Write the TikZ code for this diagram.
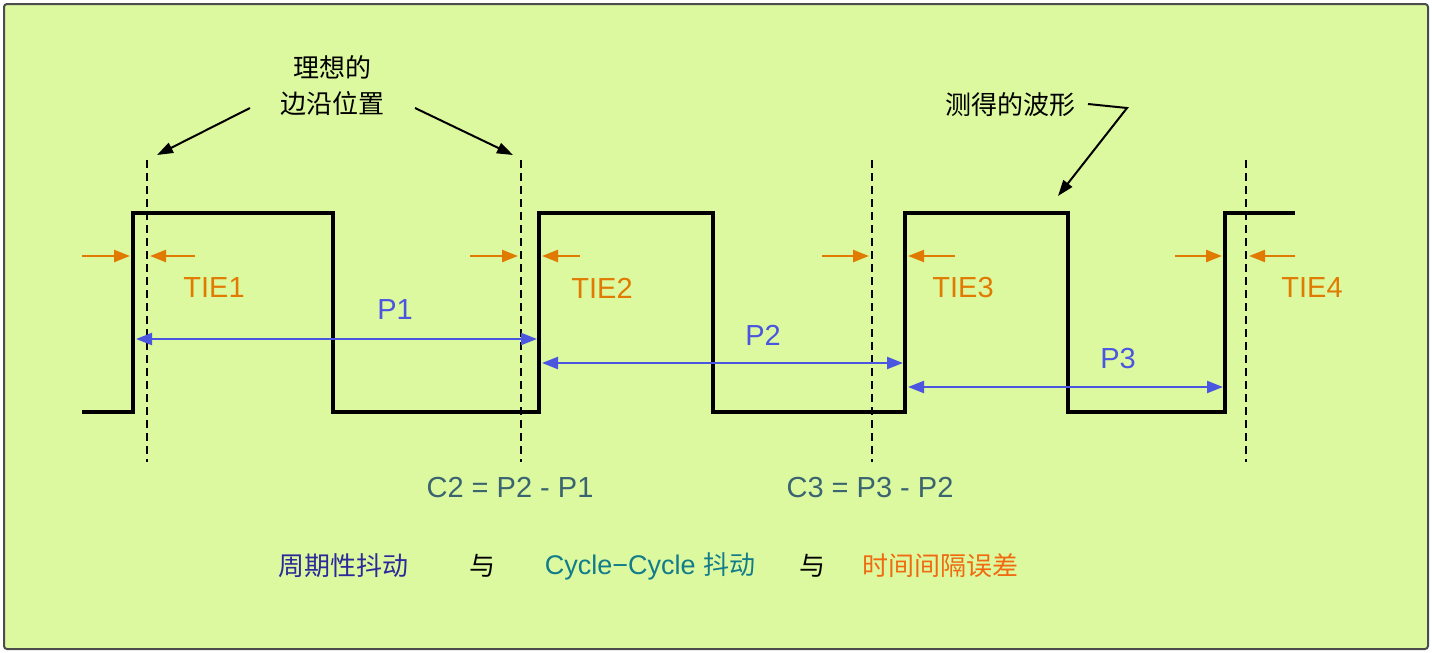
\documentclass[tikz,border=0pt]{standalone}
\usepackage{fontspec}
\setmainfont{Liberation Sans}
\newfontfamily\cjk{Noto Sans CJK SC}
\usetikzlibrary{arrows.meta}
\definecolor{bg}{HTML}{DDF9A0}
\definecolor{tie}{HTML}{E07A00}
\definecolor{per}{HTML}{4A55E0}
\definecolor{cc}{HTML}{3A6470}
\definecolor{dblue}{HTML}{2A2A9A}
\definecolor{teal}{HTML}{117C8A}
\definecolor{org}{HTML}{F06A10}
\tikzset{
 wave/.style={line width=3.6pt,black},
 ideal/.style={line width=2.2pt,dash pattern=on 8pt off 5pt},
 tiearr/.style={line width=2.4pt,tie,-{Triangle[length=16pt,width=12pt]}},
 parr/.style={line width=2.2pt,per,{Triangle[length=16pt,width=12pt]}-{Triangle[length=16pt,width=12pt]}},
 lbl/.style={inner sep=0pt,font=\fontsize{29}{33}\selectfont},
 clbl/.style={inner sep=0pt,font=\fontsize{26}{30}\selectfont\cjk},
 callout/.style={line width=2pt,-{Triangle[length=16pt,width=11pt]}}
}
\begin{document}
\begin{tikzpicture}[x=1pt,y=-1pt]
\useasboundingbox (0,0) rectangle (1432,653);
\draw[fill=bg,draw=black!70,line width=2pt,rounded corners=3pt] (4,4) rectangle (1428,649);
\draw[wave] (82,412) -- (133,412) -- (133,213) -- (333,213) -- (333,412) -- (539,412) -- (539,213) -- (713,213) -- (713,412) -- (905,412) -- (905,213) -- (1068,213) -- (1068,412) -- (1225,412) -- (1225,213) -- (1295,213);
\foreach \x/\n in {147/d1,521/d2,872/d3,1246/d4}{
 \coordinate (\n t) at (\x,160); \coordinate (\n b) at (\x,462);
 \draw[ideal] (\n t) -- (\n b);}
\foreach \a/\b/\c/\d/\i in {82/130/195/150/1,470/518/580/542/2,822/869/955/908/3,1175/1222/1295/1249/4}{
 \coordinate (ta\i) at (\a,256); \coordinate (tb\i) at (\b,256);
 \coordinate (tc\i) at (\c,256); \coordinate (td\i) at (\d,256);
 \draw[tiearr] (ta\i) -- (tb\i);
 \draw[tiearr] (tc\i) -- (td\i);}
\node[lbl,text=tie] (tie1) at (214,288) {TIE1};
\node[lbl,text=tie] (tie2) at (602,288) {TIE2};
\node[lbl,text=tie] (tie3) at (963,288) {TIE3};
\node[lbl,text=tie] (tie4) at (1312,288) {TIE4};
\coordinate (p1a) at (136,339); \coordinate (p1b) at (537,339);
\coordinate (p2a) at (542,363); \coordinate (p2b) at (903,363);
\coordinate (p3a) at (908,387); \coordinate (p3b) at (1223,387);
\draw[parr] (p1a) -- (p1b);
\draw[parr] (p2a) -- (p2b);
\draw[parr] (p3a) -- (p3b);
\node[lbl,text=per] (P1) at (395,310) {P1};
\node[lbl,text=per] (P2) at (763,335) {P2};
\node[lbl,text=per] (P3) at (1118,359) {P3};
\node[lbl,text=cc] (c2) at (510,488) {C2 = P2 - P1};
\node[lbl,text=cc] (c3) at (870,488) {C3 = P3 - P2};
\node[clbl,text=dblue] (l1) at (343,566) {周期性抖动};
\node[clbl] (l2) at (482,566) {与};
\node[lbl,text=teal,font=\fontsize{27}{30}\selectfont] (l3) at (650,566) {Cycle−Cycle {\cjk\fontsize{26}{30}\selectfont 抖动}};
\node[clbl] (l4) at (812,566) {与};
\node[clbl,text=org] (l5) at (940,566) {时间间隔误差};
\node[clbl,align=center,font=\fontsize{26}{36}\selectfont\cjk] (ideal) at (332,86) {理想的\\边沿位置};
\coordinate (i1) at (157,155); \coordinate (i2) at (513,155);
\draw[callout] (250,108) -- (i1);
\draw[callout] (415,108) -- (i2);
\node[clbl] (meas) at (1010,105) {测得的波形};
\coordinate (mk) at (1127,108); \coordinate (mt) at (1058,196);
\draw[callout] (1088,104) -- (mk) -- (mt);
\end{tikzpicture}
\end{document}
